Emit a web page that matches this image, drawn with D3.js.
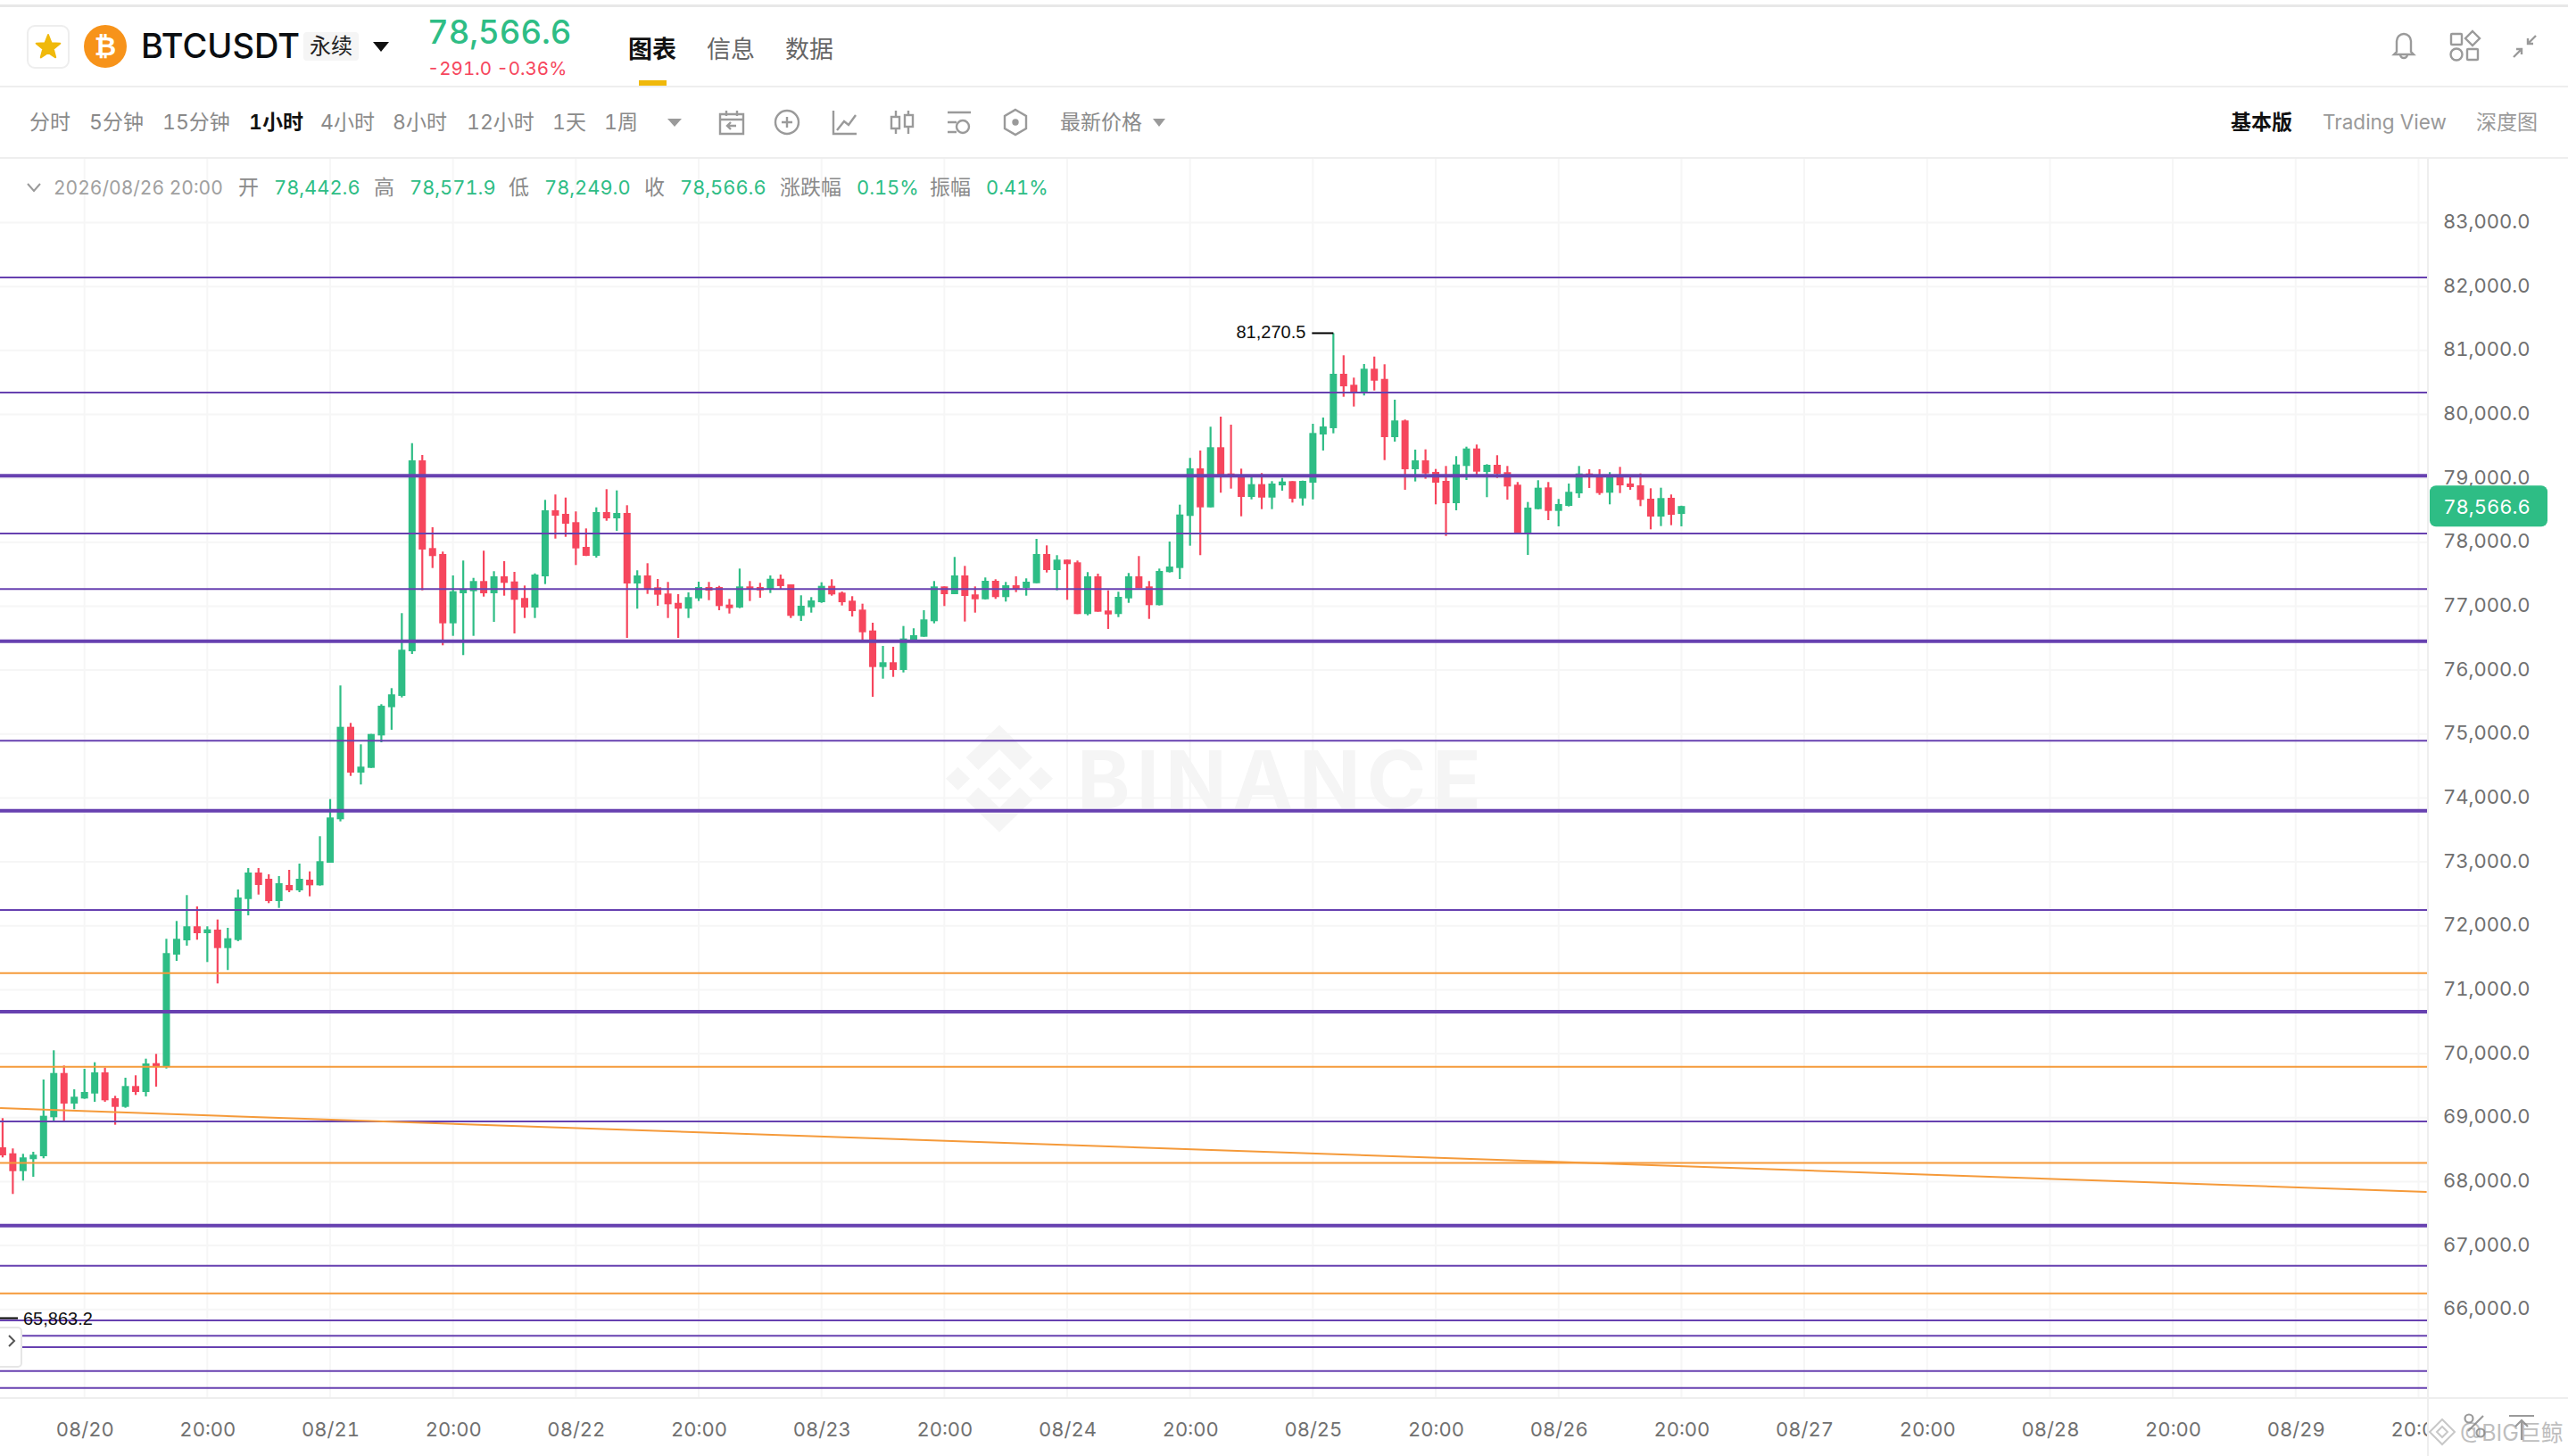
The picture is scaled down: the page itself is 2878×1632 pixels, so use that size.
<!DOCTYPE html>
<html>
<head>
<meta charset="utf-8">
<title>BTCUSDT</title>
<script src="https://cdn.jsdelivr.net/npm/d3@7"></script>
<style>
  html, body { margin: 0; padding: 0; background: #fff; }
  svg { display: block; }
  text { font-family: Inter, "Noto Sans CJK SC", sans-serif; font-variant-numeric: tabular-nums; }
</style>
</head>
<body>
<div id="chart"></div>
<script>
// candles, one hour each
const opens = [
  68536,68442,68163,68350,68396,69006,69698,69220,69299,69377,
  69708,69303,69168,69494,69401,69852,69796,71550,71773,71993,
  71885,71941,71652,71778,72419,72834,72736,72387,72639,72555,
  72722,72634,72987,73667,75113,74397,74471,74978,75420,75597,
  76295,79281,77909,77816,76732,77202,77234,77393,77202,77467,
  77387,77128,76979,77467,78500,78444,78314,77927,77788,78472,
  78374,78458,77355,77481,77295,77198,77052,76961,77122,77300,
  77300,77025,76979,77309,77300,77258,77429,77341,76849,76983,
  77062,77318,77212,77086,76946,76620,76048,76123,76002,76462,
  76522,76765,77309,77188,77481,77184,77108,77397,77142,77327,
  77286,77359,77816,77565,77728,77686,76877,77467,76932,76877,
  77122,77467,77309,77016,77533,77597,78412,79156,78546,79486,
  79076,79054,78709,78909,78699,78890,78956,78686,78932,79686,
  79784,80635,80463,80342,80714,80555,79644,79905,79142,79281,
  79100,78960,78611,79193,79467,79100,79211,79096,78900,78137,
  78518,78858,78490,78569,78765,79076,79040,78775,79048,78919,
  78890,78681,78402,78695,78442.6
];
const closes = [
  68410,68163,68378,68420,69029,69698,69220,69327,69401,69708,
  69271,69168,69494,69401,69847,69796,71574,71797,71993,71885,
  71945,71652,71806,72443,72834,72639,72387,72667,72555,72736,
  72634,73011,73695,75113,74397,74490,75001,75443,75621,76319,
  79281,77886,77784,76732,77234,77258,77393,77202,77467,77365,
  77100,76979,77495,78500,78416,78290,77904,77788,78472,78374,
  78458,77355,77481,77258,77179,77030,76961,77142,77300,77244,
  77002,76969,77309,77258,77248,77429,77314,76849,77007,77090,
  77318,77184,77062,76923,76592,76048,76123,76002,76495,76546,
  76793,77309,77188,77481,77160,77108,77397,77142,77327,77262,
  77383,77816,77565,77728,77658,76877,77467,76913,76871,77146,
  77467,77282,77016,77551,77620,78434,79156,78546,79486,79054,
  79054,78709,78909,78699,78918,78950,78681,78960,79709,79811,
  80635,80439,80342,80714,80527,79644,79905,79142,79281,79076,
  78932,78611,79216,79467,79104,79211,79072,78872,78137,78542,
  78853,78490,78597,78789,79076,79040,78769,79048,78890,78863,
  78663,78402,78691,78430,78566.6
];
const highs = [
  68992,68518,68434,68466,69596,70053,69815,69443,69764,69866,
  69782,69341,69624,69662,69922,69997,71797,72076,72481,72304,
  71993,72099,71969,72569,72904,72904,72806,72778,72876,72974,
  72852,73402,73983,75760,75174,74839,75001,75467,75718,76891,
  79550,79365,78235,77854,77481,77714,77443,77868,77547,77704,
  77537,77323,77513,78663,78747,78699,78482,78216,78546,78830,
  78811,78579,77561,77672,77425,77379,77188,77216,77383,77379,
  77318,77114,77588,77393,77365,77481,77495,77341,77170,77142,
  77374,77421,77230,77156,77039,76741,76379,76365,76690,76654,
  76937,77393,77309,77770,77630,77309,77449,77421,77379,77467,
  77435,78053,77951,77798,77728,77714,77533,77509,77248,77226,
  77519,77784,77393,77588,78011,78588,79319,79435,79807,79965,
  79839,79151,79016,79082,78956,79006,78956,78964,79853,79951,
  81270.5,80924,80575,80788,80904,80784,80230,79919,79449,79453,
  79146,79193,79347,79495,79528,79221,79361,79193,78942,78630,
  78970,78942,78677,78918,79193,79142,79142,79096,79179,79048,
  79076,78844,78853,78747,78571.9
];
const lows = [
  68378,67806,68015,68075,68364,68945,68945,69132,69294,69248,
  69248,68889,69154,69355,69332,69485,69768,71452,71690,71783,
  71434,71099,71309,71760,72164,72489,72355,72280,72527,72527,
  72462,72629,72987,73634,74345,74211,74471,74871,75067,75573,
  76253,77248,77597,76388,76536,76235,76536,77150,76755,77164,
  76574,76815,76815,77346,78057,78085,77644,77784,77760,78336,
  78179,76504,76961,77192,77007,76815,76504,76815,77081,77094,
  76937,76885,76969,77081,77132,77206,77267,76815,76769,76899,
  77052,77164,77011,76839,76472,75583,75866,75894,75964,76455,
  76522,76732,77002,77188,76760,76899,77104,77114,77072,77220,
  77164,77359,77527,77248,77100,76877,76857,76913,76644,76829,
  77052,77282,76801,77011,77527,77425,77946,77798,78546,78775,
  78839,78406,78671,78518,78518,78807,78621,78574,78671,79435,
  79704,80276,80123,80296,80374,79285,79574,78821,78951,78993,
  78593,78099,78500,78974,79058,78705,79006,78667,78137,77802,
  78514,78346,78249,78560,78695,78849,78741,78593,78769,78821,
  78565,78202,78253,78267,78249
];

// drawn support / resistance lines
const thickLevels = [79040, 76452, 73801, 70657, 67312];
const thinLevels = [82142, 80342, 78137, 77267, 74895, 72248, 68941, 66684, 65829, 65587, 65410, 65038, 64772];
const orangeLevels = [71261, 69796, 68292, 66251];
const trendBars = [-0.25, 236.8];
const trendPrices = [69148, 67838];

const priceTicks = [83000,82000,81000,80000,79000,78000,77000,76000,75000,74000,73000,72000,71000,70000,69000,68000,67000,66000];
const timeTickBars = [8,20,32,44,56,68,80,92,104,116,128,140,152,164,176,188,200,212,224,236];
const timeTickLabels = ["08/20","20:00","08/21","20:00","08/22","20:00","08/23","20:00","08/24","20:00","08/25","20:00","08/26","20:00","08/27","20:00","08/28","20:00","08/29","20:00"];

const highestPrice = 81270.5;
const highestBar = 130;
const lowestPrice = 65863.2;
const lastPrice = 78566.6;

const intervalLabels = ["分时","5分钟","15分钟","1小时","4小时","8小时","12小时","1天","1周"];
const infoLabels = ["开","高","低","收","涨跌幅","振幅"];
const infoValues = ["78,442.6","78,571.9","78,249.0","78,566.6","0.15%","0.41%"];

/** Graph configs */
const width = 2878;
const height = 1632;
const chartRight = 2721;
const chartTop = 177;
const chartBottom = 1567;
const green = "#2ebd85";
const red = "#f6465d";
const purple = "#6741b0";
const orange = "#f59a3a";
const gridColor = "#f6f6f6";
const lineColor = "#eeeeee";
const grey = "#9a9a9a";

const svg = d3.select("#chart").append("svg").attr("width", width).attr("height", height);

const x = d3.scaleLinear().domain([0, 164]).range([2.9, 1884.4]);
const y = d3.scaleLinear().domain([83000, 66000]).range([249.5, 1467.7]);
const priceFormat = d3.format(",.1f");

svg.append("defs").append("clipPath").attr("id", "plot")
  .append("rect").attr("x", 0).attr("y", chartTop).attr("width", chartRight - 1).attr("height", chartBottom - chartTop);

const plot = svg.append("g").attr("clip-path", "url(#plot)");

// grid
plot.selectAll(".grid-y").data(priceTicks).join("line").attr("class", "grid-y")
  .attr("x1", 0).attr("x2", chartRight).attr("y1", (d) => y(d)).attr("y2", (d) => y(d))
  .attr("stroke", gridColor).attr("stroke-width", 2);
plot.selectAll(".grid-x").data(timeTickBars).join("line").attr("class", "grid-x")
  .attr("x1", (d) => x(d)).attr("x2", (d) => x(d)).attr("y1", chartTop).attr("y2", chartBottom)
  .attr("stroke", gridColor).attr("stroke-width", 2);

// watermark
const mark = plot.append("g").attr("fill", "#f5f5f5");
const logoPaths = [
  "M1120 812.7L1157 849L1143 863L1120 840L1096.4 863L1082.6 849Z",
  "M1120 932.7L1157 896.4L1143 882.4L1120 905.4L1096.4 882.4L1082.6 896.4Z",
  "M1120 859.7L1133.5 872.7L1120 885.7L1106.5 872.7Z",
  "M1073.5 859.7L1087 872.7L1073.5 885.7L1060 872.7Z",
  "M1166.5 859.7L1180 872.7L1166.5 885.7L1153 872.7Z"
];
mark.selectAll("path").data(logoPaths).join("path").attr("d", (d) => d);
mark.append("text").attr("x", 1207).attr("y", 906).attr("font-size", 90).attr("font-weight", 700)
  .attr("textLength", 453).attr("lengthAdjust", "spacing").text("BINANCE");

// candles
const bars = d3.range(opens.length);
const colorOf = (i) => (closes[i] >= opens[i] ? green : red);
plot.selectAll(".wick").data(bars).join("line").attr("class", "wick")
  .attr("x1", (i) => x(i)).attr("x2", (i) => x(i))
  .attr("y1", (i) => y(highs[i])).attr("y2", (i) => y(lows[i]))
  .attr("stroke", colorOf).attr("stroke-width", 2.2);
plot.selectAll(".body").data(bars).join("rect").attr("class", "body")
  .attr("x", (i) => x(i) - 4)
  .attr("width", 8)
  .attr("y", (i) => y(Math.max(opens[i], closes[i])))
  .attr("height", (i) => Math.max(1, Math.abs(y(opens[i]) - y(closes[i]))))
  .attr("fill", colorOf);

// drawn lines go on top of the candles
const levelLines = (levels, color, w) =>
  plot.append("g").selectAll("line").data(levels).join("line")
    .attr("x1", 0).attr("x2", chartRight).attr("y1", (d) => y(d)).attr("y2", (d) => y(d))
    .attr("stroke", color).attr("stroke-width", w);
levelLines(thinLevels, purple, 2);
levelLines(thickLevels, purple, 4);
levelLines(orangeLevels, orange, 2);
plot.append("line")
  .attr("x1", x(trendBars[0])).attr("x2", x(trendBars[1]))
  .attr("y1", y(trendPrices[0])).attr("y2", y(trendPrices[1]))
  .attr("stroke", orange).attr("stroke-width", 2);

// high / low labels
const markFont = '"Liberation Sans", Arial, sans-serif';
plot.append("line").attr("x1", x(highestBar) - 24).attr("x2", x(highestBar))
  .attr("y1", y(highestPrice)).attr("y2", y(highestPrice)).attr("stroke", "#000").attr("stroke-width", 2);
plot.append("text").attr("x", x(highestBar) - 31).attr("y", y(highestPrice) + 5.5)
  .attr("text-anchor", "end").attr("font-size", 20).attr("fill", "#111").style("font-family", markFont).text(priceFormat(highestPrice));
plot.append("line").attr("x1", 0).attr("x2", 20)
  .attr("y1", y(lowestPrice)).attr("y2", y(lowestPrice)).attr("stroke", "#000").attr("stroke-width", 2);
plot.append("text").attr("x", 26).attr("y", y(lowestPrice) + 7.5)
  .attr("font-size", 20).attr("fill", "#111").style("font-family", markFont).text(priceFormat(lowestPrice));

// scroll handle at the left edge
svg.append("rect").attr("x", -6).attr("y", 1488).attr("width", 30).attr("height", 44).attr("rx", 4)
  .attr("fill", "#fff").attr("stroke", "#e6e6e6").attr("stroke-width", 2);
svg.append("path").attr("d", "M10 1497L16 1503L10 1509").attr("fill", "none").attr("stroke", "#555").attr("stroke-width", 2);

// time axis, the right panel covers the last label
const xAxis = svg.append("g").attr("transform", `translate(0,${chartBottom})`)
  .call(d3.axisBottom(x).tickValues(timeTickBars).tickFormat((d, i) => timeTickLabels[i]).tickSize(0).tickPadding(27));
xAxis.select(".domain").remove();
xAxis.selectAll("text").attr("font-size", 22).attr("fill", "#707070")
  .style("font-family", 'Inter, "Noto Sans CJK SC", sans-serif');

svg.append("rect").attr("x", chartRight).attr("y", chartTop).attr("width", width - chartRight).attr("height", height - chartTop).attr("fill", "#fff");
svg.append("line").attr("x1", 0).attr("x2", width).attr("y1", chartBottom).attr("y2", chartBottom).attr("stroke", lineColor).attr("stroke-width", 2);
svg.append("line").attr("x1", chartRight).attr("x2", chartRight).attr("y1", chartTop).attr("y2", height).attr("stroke", lineColor).attr("stroke-width", 2);

// price axis
const yAxis = svg.append("g").attr("transform", "translate(2738,-1)")
  .call(d3.axisRight(y).tickValues(priceTicks).tickFormat(priceFormat).tickSize(0).tickPadding(0));
yAxis.select(".domain").remove();
yAxis.selectAll("text").attr("font-size", 22).attr("fill", "#707070")
  .style("font-family", 'Inter, "Noto Sans CJK SC", sans-serif');

svg.append("rect").attr("x", 2723).attr("y", y(lastPrice) - 23).attr("width", 132).attr("height", 46).attr("rx", 7).attr("fill", green);
svg.append("text").attr("x", 2787).attr("y", y(lastPrice) + 9).attr("text-anchor", "middle")
  .attr("font-size", 22).attr("fill", "#fff").text(priceFormat(lastPrice));

/** Header */
const label = (tx, ty, str, size, fill, weight, anchor) =>
  svg.append("text").attr("x", tx).attr("y", ty).attr("font-size", size).attr("fill", fill)
    .attr("font-weight", weight || 400).attr("text-anchor", anchor || "start").text(str);

svg.append("rect").attr("x", 0).attr("y", 5).attr("width", width).attr("height", 3).attr("fill", "#e8e8e8");
svg.append("line").attr("x1", 0).attr("x2", width).attr("y1", 97).attr("y2", 97).attr("stroke", lineColor).attr("stroke-width", 2);
svg.append("line").attr("x1", 0).attr("x2", width).attr("y1", chartTop).attr("y2", chartTop).attr("stroke", lineColor).attr("stroke-width", 2);

svg.append("rect").attr("x", 31).attr("y", 29).attr("width", 46).attr("height", 47).attr("rx", 8)
  .attr("fill", "#fff").attr("stroke", "#eeeeee").attr("stroke-width", 2);
const star = d3.range(10).map((i) => {
  const r = i % 2 ? 6 : 14;
  const a = (i * Math.PI) / 5 - Math.PI / 2;
  return [54 + r * Math.cos(a), 53 + r * Math.sin(a)];
});
svg.append("path").attr("d", d3.line()(star) + "Z").attr("fill", "#f0b90b").attr("stroke", "#f0b90b").attr("stroke-width", 2).attr("stroke-linejoin", "round");

svg.append("circle").attr("cx", 118).attr("cy", 52).attr("r", 24).attr("fill", "#f7931a");
label(118, 62, "₿", 30, "#fff", 700, "middle").style("font-family", '"DejaVu Sans", sans-serif');
label(158, 65, "BTCUSDT", 38, "#0b0e11", 500);
svg.append("rect").attr("x", 340).attr("y", 36).attr("width", 62).attr("height", 32).attr("rx", 4).attr("fill", "#f5f5f5");
label(371, 60, "永续", 24, "#222", 400, "middle");
svg.append("path").attr("d", "M418 47L436 47L427 58Z").attr("fill", "#111");

label(479, 49, "78,566.6", 36.5, green, 500);
label(479, 84, "-291.0 -0.36%", 20.5, red);

label(704, 65, "图表", 27, "#111", 600);
label(792, 65, "信息", 27, "#666");
label(880, 65, "数据", 27, "#666");
svg.append("rect").attr("x", 716).attr("y", 90).attr("width", 31).attr("height", 6).attr("fill", "#f0b90b");

/** Toolbar */
const intervalX = [33, 100, 182, 279, 359, 440, 523, 619, 677];
intervalLabels.forEach((d, i) => label(intervalX[i], 145, d, 23, d === "1小时" ? "#111" : "#8a8a8a", d === "1小时" ? 600 : 400));
svg.append("path").attr("d", "M748 133L764 133L756 142Z").attr("fill", grey);

const icons = svg.append("g").attr("fill", "none").attr("stroke", grey).attr("stroke-width", 2.4);
icons.append("path").attr("d", "M807 128h26v22h-26zM807 134h26M814 124v6M826 124v6M825 141h-10M819 137l-4 4 4 4");
icons.append("circle").attr("cx", 882).attr("cy", 137).attr("r", 13);
icons.append("path").attr("d", "M876 137h12M882 131v12");
icons.append("path").attr("d", "M934 124v26h26M938 146l8-10 5 4 8-11");
icons.append("path").attr("d", "M1004 124v26M1018 124v26");
icons.append("rect").attr("x", 999).attr("y", 131).attr("width", 9).attr("height", 13).attr("fill", "#fff");
icons.append("rect").attr("x", 1014).attr("y", 129).attr("width", 9).attr("height", 13).attr("fill", "#fff");
icons.append("path").attr("d", "M1062 126h26M1062 137h10M1062 148h10");
icons.append("circle").attr("cx", 1079).attr("cy", 142).attr("r", 7);
icons.append("path").attr("d", "M1138 123l12 7v14l-12 7-12-7v-14z");
icons.append("circle").attr("cx", 1138).attr("cy", 137).attr("r", 2.5).attr("fill", grey);

label(1188, 145, "最新价格", 23, "#8a8a8a");
svg.append("path").attr("d", "M1292 133L1306 133L1299 142Z").attr("fill", grey);
label(2500, 145, "基本版", 23, "#111", 600);
label(2603, 145, "Trading View", 22.5, "#999");
label(2775, 145, "深度图", 23, "#999");

// top right icons
const topIcons = svg.append("g").attr("fill", "none").attr("stroke", grey).attr("stroke-width", 2.4);
topIcons.append("path").attr("d", "M2686 58v-12a8 8 0 0 1 16 0v12l3 3h-22zM2690 61a4 4 0 0 0 8 0");
topIcons.append("rect").attr("x", 2747).attr("y", 38).attr("width", 12).attr("height", 12).attr("rx", 1);
topIcons.append("path").attr("d", "M2771 35l8 8-8 8-8-8z");
topIcons.append("circle").attr("cx", 2753).attr("cy", 61).attr("r", 6.5);
topIcons.append("rect").attr("x", 2765).attr("y", 55).attr("width", 12).attr("height", 12).attr("rx", 1);
topIcons.append("path").attr("d", "M2817 64l9-9M2820 55h6v6M2842 40l-9 9M2839 49h-6v-6");

/** Info row */
svg.append("path").attr("d", "M31 206l7 8 7-8").attr("fill", "none").attr("stroke", grey).attr("stroke-width", 2);
label(60, 218, "2026/08/26 20:00", 21, "#a0a0a0");
const infoLabelX = [267, 419, 570, 722, 874, 1042];
const infoValueX = [307, 459, 610, 762, 960, 1105];
infoLabels.forEach((d, i) => {
  label(infoLabelX[i], 218, d, 23, "#8a8a8a");
  label(infoValueX[i], 218, infoValues[i], 21.8, green);
});

/** Corner tools and the site stamp */
const corner = svg.append("g").attr("fill", "none").attr("stroke", "#9a9a9a").attr("stroke-width", 2.2);
corner.append("path").attr("d", "M2766 1604l17-17");
corner.append("circle").attr("cx", 2767).attr("cy", 1590).attr("r", 4.5);
corner.append("circle").attr("cx", 2780).attr("cy", 1606).attr("r", 4.5);
corner.append("path").attr("d", "M2812 1587h28M2826 1614v-22M2819 1599l7-7 7 7");
svg.append("path").attr("d", "M2737 1591l14 14-14 14-14-14zM2737 1599l6 6-6 6-6-6z")
  .attr("fill", "none").attr("stroke", "#c8c8c8").attr("stroke-width", 2);
label(2757, 1615, "@BIG巨鲸", 25, "#8a8a8a").attr("opacity", 0.55);
</script>
</body>
</html>
